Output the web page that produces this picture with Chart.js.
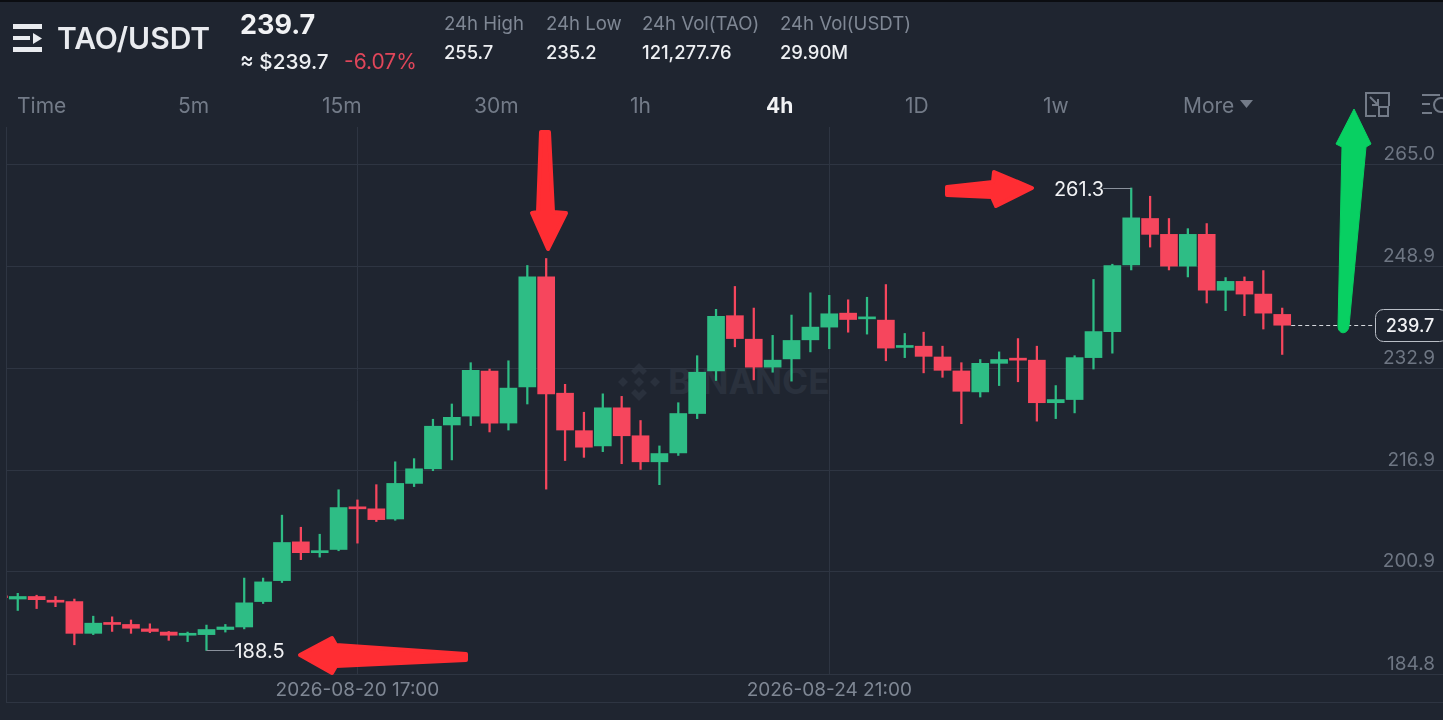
<!DOCTYPE html>
<html>
<head>
<meta charset="utf-8">
<title>TAO/USDT</title>
<script src="https://cdn.jsdelivr.net/npm/chart.js@4"></script>
<style>
  html, body { margin: 0; padding: 0; background: #1f2530; }
  body { width: 1443px; height: 720px; position: relative; overflow: hidden; font-family: Inter, sans-serif; }
  #topline { position: absolute; left: 0; top: 0; width: 1443px; height: 2px; background: #0b0d11; }
  #frame { position: absolute; left: 6px; top: 127px; width: 1437px; height: 576px; border-left: 1px solid #2e3542; border-bottom: 1px solid #2e3542; box-sizing: border-box; }
  #watermark { position: absolute; left: 668px; top: 362px; font-size: 35.5px; font-weight: 700; line-height: 40px; color: #2a313d; }
  canvas { position: absolute; left: 0; top: 0; }
  svg { position: absolute; left: 0; top: 0; }
  .t { position: absolute; white-space: nowrap; transform: translateY(-50%); }
  .label { color: #7f8794; font-size: 18.6px; }
  .val { color: #eef0f3; font-size: 18.4px; font-weight: 500; }
  .tab { color: #737b88; font-size: 21px; top: 105px; }
</style>
</head>
<body>
<div id="topline"></div>
<div id="frame"></div>
<div id="watermark">BINANCE</div>
<svg width="1443" height="720" style="z-index:0">
  <g fill="#2a313d" transform="translate(639 382)">
    <path d="M0 -19 L8 -11 L4 -7 L0 -11 L-4 -7 L-8 -11 Z"/>
    <path d="M0 19 L8 11 L4 7 L0 11 L-4 7 L-8 11 Z"/>
    <path d="M-21 0 L-16 -5 L-11 0 L-16 5 Z"/>
    <path d="M21 0 L16 -5 L11 0 L16 5 Z"/>
    <path d="M0 -5 L5 0 L0 5 L-5 0 Z"/>
  </g>
</svg>
<canvas id="chart" width="1443" height="720"></canvas>

<div class="t" style="left:57px;top:38px;font-size:30px;font-weight:600;color:#e9ebef">TAO/USDT</div>
<div class="t" style="left:240px;top:24px;font-size:27px;font-weight:700;color:#f1f2f4">239.7</div>
<div class="t" style="left:240px;top:61px;font-size:20.7px;font-weight:500;color:#eef0f3">≈ $239.7</div>
<div class="t" style="left:344px;top:61px;font-size:21px;color:#e0465a">-6.07%</div>
<div class="t label" style="left:444px;top:23px">24h High</div>
<div class="t val" style="left:444px;top:52px">255.7</div>
<div class="t label" style="left:546px;top:23px">24h Low</div>
<div class="t val" style="left:546px;top:52px">235.2</div>
<div class="t label" style="left:642px;top:23px">24h Vol(TAO)</div>
<div class="t val" style="left:642px;top:52px">121,277.76</div>
<div class="t label" style="left:780px;top:23px">24h Vol(USDT)</div>
<div class="t val" style="left:780px;top:52px">29.90M</div>

<div class="t tab" style="left:17px">Time</div>
<div class="t tab" style="left:178px">5m</div>
<div class="t tab" style="left:322px">15m</div>
<div class="t tab" style="left:474px">30m</div>
<div class="t tab" style="left:630px">1h</div>
<div class="t tab" style="left:766px;color:#f1f2f4;font-weight:700">4h</div>
<div class="t tab" style="left:905px">1D</div>
<div class="t tab" style="left:1043px">1w</div>
<div class="t tab" style="left:1183px">More</div>

<svg width="1443" height="720" style="z-index:2;pointer-events:none">
  <!-- menu icon -->
  <g fill="#e9ebef">
    <rect x="13" y="24" width="29" height="5"/>
    <rect x="13" y="36" width="17" height="4"/>
    <rect x="13" y="47" width="29" height="5"/>
    <path d="M33 33 L42 38.500 L33 44 Z"/>
  </g>
  <path d="M1240 100 L1253 100 L1246.500 108 Z" fill="#737b88"/>
  <!-- layout icon -->
  <g fill="none" stroke="#737b88" stroke-width="2">
    <path d="M1366 117 L1366 93 L1389 93 L1389 106"/>
    <rect x="1379" y="107" width="9" height="9"/>
    <path d="M1366 116 L1376 116"/>
    <path d="M1370 97 L1378 105 M1378 99 L1378 105 L1372 105"/>
    <path d="M1422 95 L1440 95 M1422 104 L1430 104 M1422 113 L1432 113"/>
    <circle cx="1441" cy="105" r="7"/>
  </g>
  <!-- hand drawn arrows -->
  <g fill="#ff2d33" stroke="#ff2d33" stroke-width="4" stroke-linejoin="round">
    <path d="M541 132 L549 132 L553 212 L566 213 L548 249 L532 213 L538 212 Z"/>
    <path d="M947 187 L993 182 L994 172 L1032 188 L996 206 L992 197 L947 195 Z"/>
    <path d="M466 654 L336 645 L332 638 L300 655 L332 673 L336 666 L466 660 Z"/>
  </g>
  <path d="M1354 109 L1371 144 L1366 147 L1349 326 C1348 335 1338 335 1338 326 L1342 147 L1336 144 Z" fill="#08d062" stroke="#08d062" stroke-width="1" stroke-linejoin="round"/>
</svg>

<script>
const upColor = '#2ebd85';
const downColor = '#f6465d';
const gridColor = '#2e3542';
const tickColor = '#6e7683';

// 4h candles, first one is cut off by the left edge of the chart
const opens = [197.1, 196.6, 197.0, 196.3, 196.2, 191.2, 192.8, 192.6, 191.9, 191.4,
  190.9, 191.0, 191.8, 192.2, 196.2, 199.5, 205.6, 203.9, 204.4, 211.0,
  210.8, 209.2, 214.8, 217.1, 224.0, 225.4, 232.5, 224.3, 230.0, 247.3,
  229.0, 223.1, 220.7, 226.7, 222.3, 218.2, 219.6, 225.8, 232.5, 241.2,
  237.5, 233.1, 234.4, 237.4, 239.4, 241.6, 240.7, 240.5, 236.2, 236.4,
  234.7, 232.5, 229.2, 233.7, 234.4, 234.2, 227.5, 228.0, 234.6, 238.7,
  249.2, 256.5, 254.0, 249.0, 254.0, 245.2, 246.6, 244.6, 241.4];
const closes = [196.8, 197.0, 196.5, 196.1, 191.2, 192.8, 192.6, 192.0, 191.5, 190.9,
  191.1, 191.8, 192.2, 196.0, 199.3, 205.5, 203.9, 204.2, 211.0, 210.8,
  209.1, 214.8, 217.1, 223.8, 225.2, 232.6, 224.3, 229.8, 247.3, 228.9,
  223.2, 220.5, 226.7, 222.3, 218.2, 219.5, 225.8, 232.3, 241.1, 237.6,
  233.1, 234.2, 237.3, 239.4, 241.5, 240.6, 240.9, 236.1, 236.5, 234.8,
  232.6, 229.3, 233.7, 234.3, 234.2, 227.5, 228.0, 234.6, 238.7, 249.1,
  256.6, 254.0, 249.0, 254.0, 245.2, 246.6, 244.6, 241.6, 239.7];
const highs = [197.2, 197.5, 197.2, 197.0, 196.6, 193.9, 193.8, 193.3, 192.7, 191.5,
  191.4, 192.5, 192.6, 199.9, 199.9, 209.8, 207.9, 206.8, 213.8, 212.2,
  214.6, 218.2, 218.7, 224.9, 227.3, 233.8, 232.8, 234.1, 249.1, 250.2,
  230.4, 226.0, 228.9, 228.5, 224.7, 220.7, 227.5, 234.9, 242.2, 245.8,
  242.4, 238.1, 241.3, 244.8, 244.4, 243.7, 244.1, 246.1, 238.4, 238.6,
  236.4, 233.8, 234.3, 235.5, 237.6, 236.4, 230.2, 234.9, 246.9, 249.3,
  261.3, 260.0, 256.5, 254.9, 255.7, 247.2, 247.3, 248.3, 242.4];
const lows = [196.6, 194.8, 195.1, 195.4, 189.4, 191.0, 191.5, 191.2, 191.3, 190.1,
  189.9, 188.5, 191.4, 191.9, 195.9, 199.2, 202.8, 203.2, 204.2, 205.4,
  208.8, 209.0, 214.3, 216.8, 218.5, 223.9, 222.9, 223.2, 227.3, 213.9,
  218.4, 218.9, 219.8, 217.9, 217.0, 214.6, 219.2, 225.0, 231.0, 236.3,
  231.1, 232.3, 230.9, 235.5, 236.0, 238.6, 238.3, 234.1, 234.6, 232.2,
  231.5, 224.2, 228.4, 230.2, 230.8, 224.6, 225.0, 225.9, 232.8, 235.3,
  248.4, 252.0, 248.4, 247.3, 243.2, 242.0, 241.2, 239.1, 235.1];

const yTicks = [184.8, 200.9, 216.9, 232.9, 248.9, 265.0];
const timeTickIndex = [19, 44];
const timeTickLabels = ['2026-08-20 17:00', '2026-08-24 21:00'];
const lastPrice = 239.7;
const highIndex = 60;
const lowIndex = 11;

const candleColors = opens.map((o, i) => closes[i] >= o ? upColor : downColor);

// high / low tags and the last price line
const priceMarks = {
  id: 'priceMarks',
  afterDatasetsDraw(chart) {
    const { ctx, scales: { x, y } } = chart;
    ctx.save();
    ctx.font = '400 20px Inter';
    ctx.textBaseline = 'middle';
    ctx.lineWidth = 1;

    const hx = x.getPixelForValue(highIndex);
    const hy = Math.round(y.getPixelForValue(highs[highIndex])) + 0.5;
    ctx.strokeStyle = '#8a919c';
    ctx.beginPath();
    ctx.moveTo(hx, hy);
    ctx.lineTo(hx - 28, hy);
    ctx.stroke();
    ctx.fillStyle = '#f1f2f4';
    ctx.textAlign = 'right';
    ctx.fillText(highs[highIndex].toFixed(1), hx - 27, hy + 1);

    const lx = x.getPixelForValue(lowIndex);
    const ly = Math.round(y.getPixelForValue(lows[lowIndex])) + 0.5;
    ctx.beginPath();
    ctx.moveTo(lx, ly);
    ctx.lineTo(lx + 28, ly);
    ctx.stroke();
    ctx.textAlign = 'left';
    ctx.fillText(lows[lowIndex].toFixed(1), lx + 28, ly + 1);

    const last = Math.round(y.getPixelForValue(lastPrice)) + 0.5;
    ctx.strokeStyle = '#d5d8dd';
    ctx.setLineDash([4, 3]);
    ctx.beginPath();
    ctx.moveTo(x.getPixelForValue(opens.length - 1) + 9, last);
    ctx.lineTo(1375, last);
    ctx.stroke();
    ctx.setLineDash([]);

    ctx.fillStyle = '#1f2530';
    ctx.strokeStyle = '#b9bec6';
    ctx.beginPath();
    ctx.roundRect(1375.5, last - 16, 72, 32, 8);
    ctx.fill();
    ctx.stroke();
    ctx.fillStyle = '#f1f2f4';
    ctx.font = '500 18px Inter';
    ctx.textAlign = 'center';
    ctx.fillText(lastPrice.toFixed(1), 1410, last + 1);
    ctx.restore();
  }
};

new Chart(document.getElementById('chart'), {
  type: 'bar',
  data: {
    datasets: [{
      label: 'wick',
      data: opens.map((_, i) => ({ x: i, y: [lows[i], highs[i]] })),
      backgroundColor: candleColors,
      barThickness: 1.6,
      order: 2
    }, {
      label: 'body',
      data: opens.map((o, i) => ({ x: i, y: [o, closes[i]] })),
      backgroundColor: candleColors,
      barThickness: 17,
      minBarLength: 2,
      order: 1
    }]
  },
  options: {
    responsive: false,
    animation: false,
    events: [],
    layout: { padding: { left: 7, top: 127, right: 0, bottom: 0 } },
    plugins: { legend: { display: false }, tooltip: { enabled: false } },
    datasets: { bar: { grouped: false } },
    scales: {
      x: {
        type: 'linear',
        offset: false,
        min: 0.43,
        max: 76.52,
        afterBuildTicks: scale => { scale.ticks = timeTickIndex.map(v => ({ value: v })); },
        afterFit: scale => { scale.height = 46; },
        grid: { color: gridColor, drawTicks: false, offset: false },
        border: { display: false },
        ticks: {
          autoSkip: false,
          maxRotation: 0,
          padding: 5,
          color: '#7f8794',
          font: { family: 'Inter', size: 19 },
          callback: v => timeTickLabels[timeTickIndex.indexOf(v)]
        }
      },
      y: {
        position: 'right',
        min: 184.8,
        max: 270.9,
        afterBuildTicks: scale => { scale.ticks = yTicks.map(v => ({ value: v })); },
        afterFit: scale => { scale.width = 0; },
        grid: { color: gridColor, drawTicks: false },
        border: { display: false },
        ticks: {
          mirror: true,
          padding: -8,
          labelOffset: -10,
          color: tickColor,
          font: { family: 'Inter', size: 19 },
          callback: v => v.toFixed(1)
        }
      }
    }
  },
  plugins: [priceMarks]
});
</script>
</body>
</html>
